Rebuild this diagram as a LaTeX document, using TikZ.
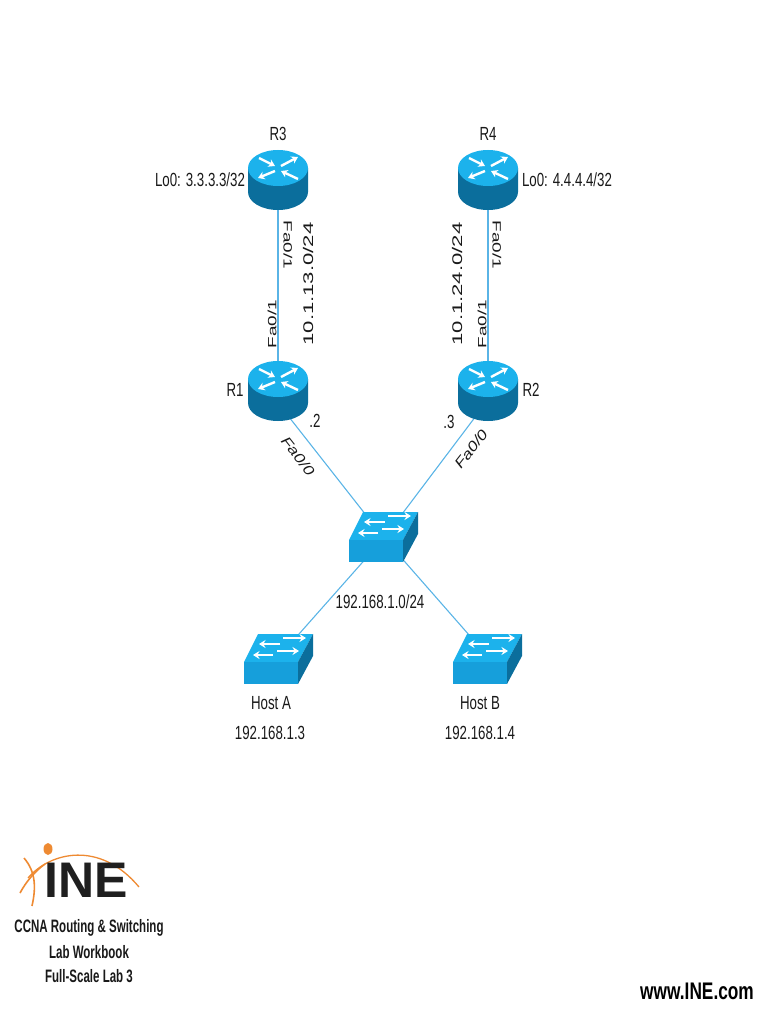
\documentclass[tikz,border=0pt]{standalone}
\usepackage{fontspec}
\setmainfont{Liberation Sans}
\usepackage{tikz}
\usetikzlibrary{arrows.meta}
\definecolor{linkblue}{HTML}{5AB4E6}
\definecolor{icontop}{HTML}{1CB2EC}
\definecolor{iconfront}{HTML}{169FDB}
\definecolor{iconside}{HTML}{0B6E9C}
\definecolor{ineorange}{HTML}{EE8A32}
\tikzset{
    link/.style={linkblue, line width=1.1pt},
    hub/.style={inner sep=0pt, minimum size=1pt},
    lbl/.style={inner sep=0pt, font=\fontsize{19}{19}\selectfont, xscale=0.7, text=black!90},
    wide/.style={inner sep=0pt, font=\fontsize{12}{12}\selectfont, xscale=1.58, text=black!90},
    slant/.style={inner sep=0pt, font=\itshape\fontsize{14}{14}\selectfont, xscale=1.25, text=black!90},
    foot/.style={inner sep=0pt, font=\bfseries\fontsize{18}{18}\selectfont, xscale=0.64, text=black!90},
    flow/.style={white, line width=2.4pt, -{Stealth[length=6.5pt, width=8pt]}},
    router/.pic={
        \filldraw[iconside, draw=none] (-30,0) -- (-30,24) arc[x radius=30, y radius=18, start angle=180, end angle=0] -- (30,0) -- cycle;
        \filldraw[icontop, draw=none] (0,0) ellipse[x radius=30, y radius=18];
        \draw[flow] (-19,-10) -- (-3,-2);
        \draw[flow] (-3,3) -- (-20,10);
        \draw[flow] (3,-2) -- (20,-11);
        \draw[flow] (20,11) -- (3,3);
    },
    lanswitch/.pic={
        \filldraw[icontop, draw=none] (-35,2) -- (-21,-26) -- (34,-26) -- (19,2) -- cycle;
        \filldraw[iconfront, draw=none] (-35,2) rectangle (19,24);
        \filldraw[iconside, draw=none] (19,2) -- (34,-26) -- (34,-4) -- (19,24) -- cycle;
        \draw[flow] (4,-22) -- (27,-22);
        \draw[flow] (1,-16) -- (-20,-16);
        \draw[flow] (-6,-5) -- (-26,-5);
        \draw[flow] (-2,-9) -- (20,-9);
    }
}
\begin{document}
\begin{tikzpicture}[x=1pt, y=-1pt]
    \useasboundingbox (0,0) rectangle (768,1024);

    % hubs the links run between
    \node[hub] (r3) at (278,180) {};
    \node[hub] (r4) at (488,180) {};
    \node[hub] (r1) at (278,403) {};
    \node[hub] (r2) at (488,400) {};
    \node[hub] (sw) at (384,538) {};
    \node[hub] (hosta) at (276,660) {};
    \node[hub] (hostb) at (491,660) {};

    \draw[link] (r3) -- (r1);
    \draw[link] (r4) -- (r2);
    \draw[link] (r1) -- (sw);
    \draw[link] (r2) -- (sw);
    \draw[link] (sw) -- (hosta);
    \draw[link] (sw) -- (hostb);

    % icons
    \pic at (278,168) {router};
    \pic at (488,168) {router};
    \pic at (278,379) {router};
    \pic at (488,379) {router};
    \pic at (384,538) {lanswitch};
    \pic at (279,660) {lanswitch};
    \pic at (488,660) {lanswitch};

    % labels
    \node[lbl] (r3name) at (278,134) {R3};
    \node[lbl] (r4name) at (488,134) {R4};
    \node[lbl] (r1name) at (235,390) {R1};
    \node[lbl] (r2name) at (531,390) {R2};
    \node[lbl] (lo3) at (200,180) {Lo0: 3.3.3.3/32};
    \node[lbl] (lo4) at (567,180) {Lo0: 4.4.4.4/32};
    \node[lbl] (dot2) at (315,421) {.2};
    \node[lbl] (dot3) at (449,422) {.3};

    \node[rotate=90, wide] (net13) at (308,284) {\fontsize{14}{14}\selectfont 10.1.13.0/24};
    \node[rotate=90, wide] (net24) at (457,284) {\fontsize{14}{14}\selectfont 10.1.24.0/24};
    \node[rotate=90, wide] (fa1a) at (272,324) {Fa0/1};
    \node[rotate=90, wide] (fa1b) at (482,324) {Fa0/1};
    \node[rotate=-90, wide] (fa1c) at (288,245) {Fa0/1};
    \node[rotate=-90, wide] (fa1d) at (497,245) {Fa0/1};
    \node[rotate=-52, slant] (fa0a) at (298,456) {Fa0/0};
    \node[rotate=52, slant] (fa0b) at (471,449) {Fa0/0};

    \node[lbl] (lan) at (380,602) {192.168.1.0/24};
    \node[lbl] (hostaname) at (271,703) {Host A};
    \node[lbl] (hostaip) at (270,733) {192.168.1.3};
    \node[lbl] (hostbname) at (480,703) {Host B};
    \node[lbl] (hostbip) at (480,733) {192.168.1.4};

    % logo
    \draw[ineorange, line width=1.3pt] (28,878) .. controls (50,852) and (100,840) .. (139,887);
    \draw[ineorange, line width=1.6pt] (24,858) .. controls (36,872) and (36,888) .. (32,906);
    \draw[ineorange, line width=1.6pt] (45,864) .. controls (34,872) and (26,882) .. (20,893);
    \filldraw[ineorange, draw=none] (48,849) ellipse[x radius=4.5, y radius=6];
    \node[inner sep=0pt, font=\bfseries\fontsize{50}{50}\selectfont, text=black!88] (inelogo) at (86,880) {INE};

    \node[foot] (ftone) at (89,928) {CCNA Routing \& Switching};
    \node[foot] (fttwo) at (89,952) {Lab Workbook};
    \node[foot] (ftthree) at (89,976) {Full-Scale Lab 3};
    \node[inner sep=0pt, font=\bfseries\fontsize{24}{24}\selectfont, xscale=0.72] (site) at (697,991) {www.INE.com};
\end{tikzpicture}
\end{document}
